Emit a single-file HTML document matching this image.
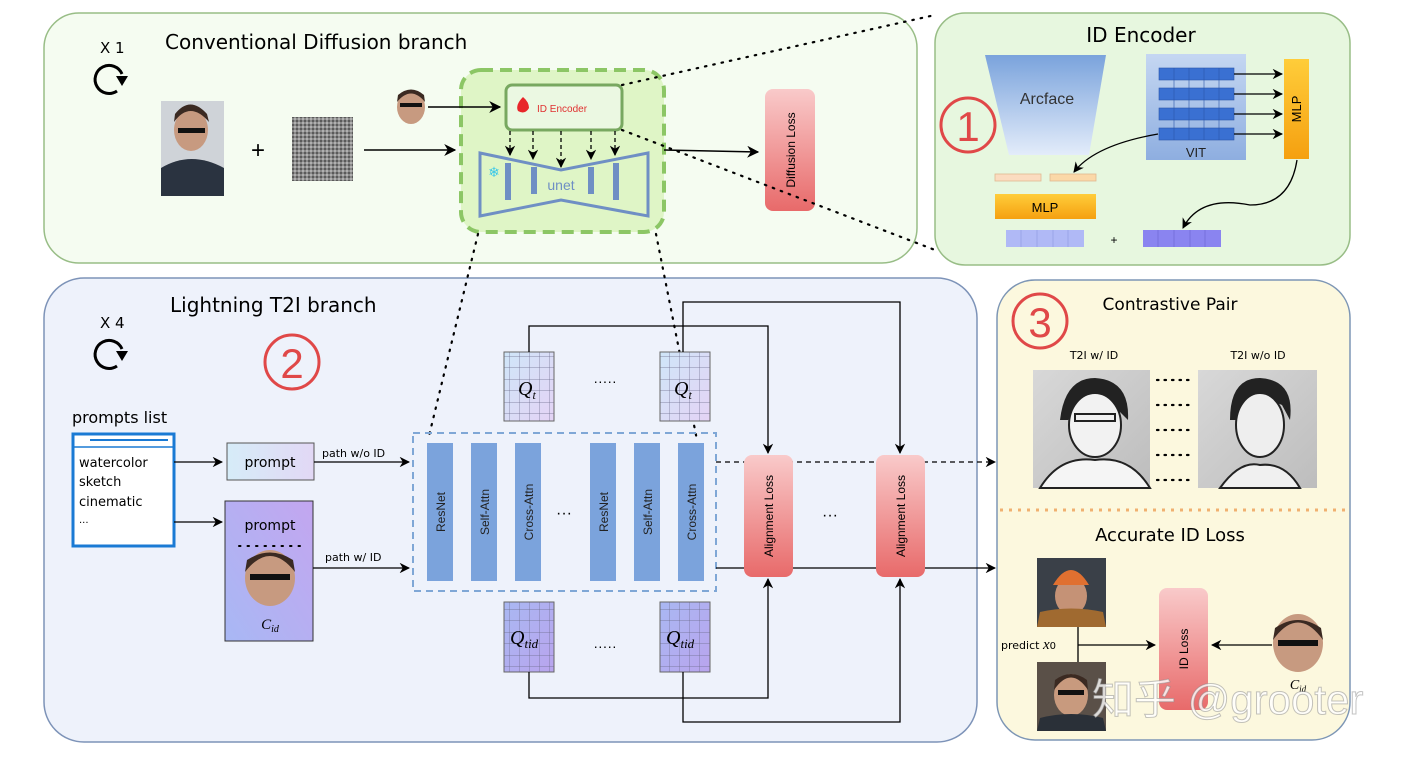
<!DOCTYPE html>
<html><head><meta charset="utf-8"><style>
html,body{margin:0;padding:0;background:#fff;}
svg{display:block;font-family:"Liberation Sans",sans-serif;}
.t{font-family:"DejaVu Sans","Liberation Sans",sans-serif;}
</style></head><body>
<svg width="1414" height="761" viewBox="0 0 1414 761" xmlns="http://www.w3.org/2000/svg">
<defs>
<marker id="ar" viewBox="0 0 10 10" refX="9" refY="5" markerWidth="8" markerHeight="8" orient="auto-start-reverse"><path d="M0,0 L10,5 L0,10 L3,5 z" fill="#000"/></marker>
<linearGradient id="red" x1="0" y1="0" x2="0" y2="1"><stop offset="0" stop-color="#f9caca"/><stop offset="1" stop-color="#e86a6a"/></linearGradient>
<linearGradient id="org" x1="0" y1="0" x2="0" y2="1"><stop offset="0" stop-color="#ffcd3a"/><stop offset="1" stop-color="#f5a010"/></linearGradient>
<linearGradient id="arc" x1="0" y1="0" x2="0" y2="1"><stop offset="0" stop-color="#7aa3dc"/><stop offset="1" stop-color="#e3ecfa"/></linearGradient>
<linearGradient id="vit" x1="0" y1="0" x2="0" y2="1"><stop offset="0" stop-color="#c5d7f2"/><stop offset="1" stop-color="#8eaee0"/></linearGradient>
<linearGradient id="qt" x1="0" y1="0" x2="1" y2="1"><stop offset="0" stop-color="#cfe6f8"/><stop offset="1" stop-color="#e4d3f5"/></linearGradient>
<linearGradient id="qtid" x1="0" y1="0" x2="1" y2="1"><stop offset="0" stop-color="#a9b8f2"/><stop offset="1" stop-color="#b9a4ee"/></linearGradient>
<linearGradient id="pr1" x1="0" y1="0" x2="1" y2="0"><stop offset="0" stop-color="#d6ecf8"/><stop offset="1" stop-color="#e2d8f5"/></linearGradient>
<linearGradient id="pr2" x1="0" y1="1" x2="1" y2="0"><stop offset="0" stop-color="#a8b8f4"/><stop offset="1" stop-color="#c3a6f0"/></linearGradient>
<linearGradient id="gray" x1="0" y1="0" x2="1" y2="1"><stop offset="0" stop-color="#d8d8d8"/><stop offset="1" stop-color="#bdbdbd"/></linearGradient>
<pattern id="noise" width="4" height="4" patternUnits="userSpaceOnUse"><rect width="4" height="4" fill="#8a8a8a"/><rect width="2" height="2" fill="#5a5a5a"/><rect x="2" y="2" width="2" height="2" fill="#b0b0b0"/></pattern>
<pattern id="grid" width="10" height="11.5" patternUnits="userSpaceOnUse"><path d="M10,0 V11.5 M0,11.5 H10" stroke="#6a6a8a" stroke-width="0.7" fill="none"/></pattern>
</defs>

<rect x="44" y="13" width="873" height="250" rx="35" fill="#f5fcf1" stroke="#98bd86" stroke-width="1.5"/>
<rect x="935" y="13" width="415" height="252" rx="30" fill="#e7f7df" stroke="#98bd86" stroke-width="1.5"/>
<rect x="44" y="278" width="933" height="464" rx="40" fill="#eef2fb" stroke="#7d93b8" stroke-width="1.5"/>
<rect x="997" y="280" width="353" height="460" rx="38" fill="#fcf8de" stroke="#7d96b5" stroke-width="1.5"/>

<text x="100" y="53" font-size="15" class="t">X 1</text>
<path d="M117,91 A14,14 0 1 1 122,74" fill="none" stroke="#000" stroke-width="3"/>
<path d="M116,76 L128,76 L122,86 z" fill="#000"/>
<text x="165" y="49" font-size="20" class="t">Conventional Diffusion branch</text>
<rect x="161" y="101" width="63" height="95" fill="#cfd3d8"/>
<ellipse cx="191" cy="130" rx="17" ry="21" fill="#c79a80"/>
<path d="M174,122 Q190,100 209,122 L207,114 Q190,95 175,114 z" fill="#3b2a22"/>
<rect x="178" y="128" width="27" height="5" fill="#111"/>
<path d="M161,196 L161,168 Q191,150 224,168 L224,196 z" fill="#2a3340"/>
<text x="258" y="158" font-size="24" text-anchor="middle">+</text>
<rect x="292" y="117" width="61" height="64" fill="url(#noise)"/>
<line x1="364" y1="150" x2="455" y2="150" stroke="#000" stroke-width="1.5" marker-end="url(#ar)"/>
<ellipse cx="411" cy="107" rx="14" ry="17" fill="#c79a80"/>
<path d="M397,102 Q411,85 425,102 L424,95 Q411,84 398,95 z" fill="#3b2a22"/>
<rect x="400" y="103" width="22" height="4" fill="#111"/>
<rect x="461" y="70" width="203" height="162" rx="20" fill="#dff5c6" stroke="#8cc665" stroke-width="4" stroke-dasharray="12,7"/>
<line x1="428" y1="107" x2="500" y2="107" stroke="#000" stroke-width="1.5" marker-end="url(#ar)"/>
<rect x="506" y="85" width="116" height="45" rx="6" fill="#ebf8e2" stroke="#78a860" stroke-width="3"/>
<path d="M523,97 Q515,105 518,111 Q525,115 529,108 Q529,102 523,97 z" fill="#e8262a"/>
<text x="537" y="112" font-size="10" fill="#e03030">ID Encoder</text>
<g stroke="#000" stroke-width="1.3" stroke-dasharray="4,3">
<line x1="510" y1="131" x2="510" y2="155" marker-end="url(#ar)"/>
<line x1="533" y1="131" x2="533" y2="159" marker-end="url(#ar)"/>
<line x1="561" y1="131" x2="561" y2="167" marker-end="url(#ar)"/>
<line x1="591" y1="131" x2="591" y2="159" marker-end="url(#ar)"/>
<line x1="615" y1="131" x2="615" y2="155" marker-end="url(#ar)"/>
</g>
<polygon points="480,153 561,170 648,153 648,216 561,200 480,216" fill="none" stroke="#6f8fc4" stroke-width="3"/>
<rect x="505" y="163" width="6" height="37" fill="#6f8fc4"/>
<rect x="531" y="167" width="6" height="27" fill="#6f8fc4"/>
<rect x="588" y="167" width="6" height="27" fill="#6f8fc4"/>
<rect x="613" y="163" width="6" height="37" fill="#6f8fc4"/>
<text x="561" y="190" font-size="14" fill="#6f8fc4" text-anchor="middle">unet</text>
<text x="494" y="177" font-size="14" fill="#3ec8e8" text-anchor="middle">❄</text>
<line x1="664" y1="150" x2="758" y2="152" stroke="#000" stroke-width="1.5" marker-end="url(#ar)"/>
<rect x="765" y="89" width="50" height="122" rx="8" fill="url(#red)"/>
<text transform="translate(795,150) rotate(-90)" font-size="12" text-anchor="middle">Diffusion Loss</text>
<g stroke="#000" stroke-width="2.2" stroke-dasharray="1.5,7" stroke-linecap="round" fill="none">
<line x1="622" y1="85" x2="935" y2="15"/>
<line x1="622" y1="130" x2="935" y2="250"/>
<line x1="478" y1="234" x2="428" y2="440"/>
<line x1="656" y1="234" x2="697" y2="440"/>
</g>

<text x="1141" y="42" font-size="20" text-anchor="middle" class="t">ID Encoder</text>
<polygon points="985,55 1106,55 1089,155 1009,155" fill="url(#arc)"/>
<text x="1047" y="104" font-size="16" fill="#333" text-anchor="middle">Arcface</text>
<rect x="1146" y="54" width="100" height="106" fill="url(#vit)"/>
<g fill="#3a70d2" stroke="#2a55a8" stroke-width="0.6">
<rect x="1159" y="68" width="75" height="12"/><rect x="1159" y="88" width="75" height="12"/>
<rect x="1159" y="108" width="75" height="12"/><rect x="1159" y="128" width="75" height="12"/>
</g>
<g stroke="#2a55a8" stroke-width="0.6"><line x1="1174" y1="68" x2="1174" y2="140"/><line x1="1189" y1="68" x2="1189" y2="140"/><line x1="1204" y1="68" x2="1204" y2="140"/><line x1="1219" y1="68" x2="1219" y2="140"/></g>
<text x="1196" y="157" font-size="13" fill="#222" text-anchor="middle">VIT</text>
<g stroke="#000" stroke-width="1.3">
<line x1="1234" y1="74" x2="1282" y2="74" marker-end="url(#ar)"/>
<line x1="1234" y1="94" x2="1282" y2="94" marker-end="url(#ar)"/>
<line x1="1234" y1="114" x2="1282" y2="114" marker-end="url(#ar)"/>
<line x1="1234" y1="134" x2="1282" y2="134" marker-end="url(#ar)"/>
</g>
<rect x="1284" y="59" width="25" height="100" fill="url(#org)"/>
<text transform="translate(1301,109) rotate(-90)" font-size="13" text-anchor="middle">MLP</text>
<circle cx="968" cy="125" r="27" fill="none" stroke="#e04848" stroke-width="3"/>
<text x="968" y="141" font-size="42" fill="#e04848" text-anchor="middle">1</text>
<rect x="995" y="174" width="46" height="7" fill="#fbdcc0" stroke="#e0b890" stroke-width="0.8"/>
<rect x="1050" y="174" width="46" height="7" fill="#fbd8a8" stroke="#e0b890" stroke-width="0.8"/>
<path d="M1158,134 Q1095,145 1074,172" fill="none" stroke="#000" stroke-width="1.3" marker-end="url(#ar)"/>
<rect x="995" y="194" width="101" height="25" fill="url(#org)"/>
<text x="1045" y="212" font-size="13" text-anchor="middle">MLP</text>
<rect x="1006" y="230" width="78" height="17" fill="#b0b9f6"/>
<g stroke="#8c98e0" stroke-width="0.6"><line x1="1021" y1="230" x2="1021" y2="247"/><line x1="1037" y1="230" x2="1037" y2="247"/><line x1="1053" y1="230" x2="1053" y2="247"/><line x1="1068" y1="230" x2="1068" y2="247"/></g>
<text x="1114" y="244" font-size="12" text-anchor="middle">+</text>
<rect x="1143" y="230" width="78" height="17" fill="#8a84f0"/>
<g stroke="#6a64d0" stroke-width="0.6"><line x1="1158" y1="230" x2="1158" y2="247"/><line x1="1174" y1="230" x2="1174" y2="247"/><line x1="1190" y1="230" x2="1190" y2="247"/><line x1="1205" y1="230" x2="1205" y2="247"/></g>
<path d="M1297,160 Q1290,205 1250,205 Q1200,195 1183,228" fill="none" stroke="#000" stroke-width="1.3" marker-end="url(#ar)"/>

<text x="100" y="328" font-size="15" class="t">X 4</text>
<path d="M117,366 A14,14 0 1 1 122,349" fill="none" stroke="#000" stroke-width="3"/>
<path d="M116,351 L128,351 L122,361 z" fill="#000"/>
<text x="170" y="312" font-size="20" class="t">Lightning T2I branch</text>
<circle cx="292" cy="362" r="27" fill="none" stroke="#e04848" stroke-width="3"/>
<text x="292" y="378" font-size="42" fill="#e04848" text-anchor="middle">2</text>
<text x="72" y="423" font-size="16" class="t">prompts list</text>
<rect x="73" y="434" width="101" height="112" fill="#fff" stroke="#1a7ad4" stroke-width="3"/>
<line x1="73" y1="447" x2="174" y2="447" stroke="#1a7ad4" stroke-width="1.5"/>
<line x1="90" y1="440" x2="168" y2="440" stroke="#1a7ad4" stroke-width="2"/>
<g font-size="13" class="t"><text x="79" y="467">watercolor</text><text x="79" y="486">sketch</text><text x="79" y="506">cinematic</text><text x="79" y="523" font-size="10">...</text></g>
<line x1="174" y1="462" x2="222" y2="462" stroke="#000" stroke-width="1.3" marker-end="url(#ar)"/>
<line x1="174" y1="522" x2="222" y2="522" stroke="#000" stroke-width="1.3" marker-end="url(#ar)"/>
<rect x="227" y="443" width="87" height="37" fill="url(#pr1)" stroke="#555"/>
<text x="270" y="467" font-size="14" text-anchor="middle" class="t">prompt</text>
<rect x="225" y="501" width="88" height="140" fill="url(#pr2)" stroke="#333"/>
<text x="270" y="530" font-size="14" text-anchor="middle" class="t">prompt</text>
<line x1="239" y1="546" x2="302" y2="546" stroke="#000" stroke-width="2" stroke-dasharray="1.5,7" stroke-linecap="round"/>
<ellipse cx="270" cy="578" rx="25" ry="28" fill="#c79a80"/>
<path d="M245,572 Q270,540 295,572 L293,560 Q270,545 247,560 z" fill="#3b2a22"/>
<rect x="250" y="574" width="40" height="6" fill="#111"/>
<text x="270" y="629" font-size="15" font-style="italic" text-anchor="middle" font-family="Liberation Serif">C<tspan font-size="10" dy="3">id</tspan></text>
<line x1="314" y1="462" x2="409" y2="462" stroke="#000" stroke-width="1.3" marker-end="url(#ar)"/>
<text x="322" y="457" font-size="11" class="t">path w/o ID</text>
<line x1="313" y1="568" x2="409" y2="568" stroke="#000" stroke-width="1.3" marker-end="url(#ar)"/>
<text x="325" y="561" font-size="11" class="t">path w/ ID</text>
<rect x="413" y="433" width="303" height="158" fill="none" stroke="#7fa7d6" stroke-width="2" stroke-dasharray="7,5"/>
<g fill="#7ba3dc">
<rect x="427" y="443" width="26" height="138"/><rect x="471" y="443" width="26" height="138"/><rect x="515" y="443" width="26" height="138"/>
<rect x="590" y="443" width="26" height="138"/><rect x="634" y="443" width="26" height="138"/><rect x="678" y="443" width="26" height="138"/>
</g>
<g font-size="12" fill="#222">
<text transform="translate(445,512) rotate(-90)" text-anchor="middle">ResNet</text>
<text transform="translate(489,512) rotate(-90)" text-anchor="middle">Self-Attn</text>
<text transform="translate(533,512) rotate(-90)" text-anchor="middle">Cross-Attn</text>
<text transform="translate(608,512) rotate(-90)" text-anchor="middle">ResNet</text>
<text transform="translate(652,512) rotate(-90)" text-anchor="middle">Self-Attn</text>
<text transform="translate(696,512) rotate(-90)" text-anchor="middle">Cross-Attn</text>
</g>
<text x="564" y="518" font-size="16" text-anchor="middle">···</text>
<rect x="504" y="352" width="50" height="69" fill="url(#qt)"/><rect x="504" y="352" width="50" height="69" fill="url(#grid)" stroke="#666"/>
<rect x="660" y="352" width="50" height="69" fill="url(#qt)"/><rect x="660" y="352" width="50" height="69" fill="url(#grid)" stroke="#666"/>
<rect x="504" y="602" width="50" height="70" fill="url(#qtid)"/><rect x="504" y="602" width="50" height="70" fill="url(#grid)" stroke="#666"/>
<rect x="660" y="602" width="50" height="70" fill="url(#qtid)"/><rect x="660" y="602" width="50" height="70" fill="url(#grid)" stroke="#666"/>
<g font-family="Liberation Serif" font-style="italic" font-size="20">
<text x="518" y="395">Q<tspan font-size="12" dy="4">t</tspan></text>
<text x="674" y="395">Q<tspan font-size="12" dy="4">t</tspan></text>
<text x="510" y="644">Q<tspan font-size="13" dy="4">tid</tspan></text>
<text x="666" y="644">Q<tspan font-size="13" dy="4">tid</tspan></text>
</g>
<text x="605" y="386" font-size="14" text-anchor="middle">·····</text>
<text x="605" y="651" font-size="14" text-anchor="middle">·····</text>
<g fill="none" stroke="#000" stroke-width="1.3">
<polyline points="529,352 529,326 768,326 768,453" marker-end="url(#ar)"/>
<polyline points="683,352 683,302 900,302 900,453" marker-end="url(#ar)"/>
<polyline points="529,672 529,698 768,698 768,579" marker-end="url(#ar)"/>
<polyline points="683,672 683,722 900,722 900,579" marker-end="url(#ar)"/>
<line x1="716" y1="462" x2="995" y2="462" stroke-dasharray="5,4" marker-end="url(#ar)"/>
<line x1="716" y1="568" x2="995" y2="568" marker-end="url(#ar)"/>
</g>
<rect x="744" y="455" width="49" height="122" rx="8" fill="url(#red)"/>
<rect x="876" y="455" width="49" height="122" rx="8" fill="url(#red)"/>
<text transform="translate(773,516) rotate(-90)" font-size="12" text-anchor="middle">Alignment Loss</text>
<text transform="translate(905,516) rotate(-90)" font-size="12" text-anchor="middle">Alignment Loss</text>
<text x="830" y="520" font-size="16" text-anchor="middle">···</text>

<circle cx="1040" cy="321" r="27" fill="none" stroke="#e04848" stroke-width="3"/>
<text x="1040" y="337" font-size="42" fill="#e04848" text-anchor="middle">3</text>
<text x="1170" y="310" font-size="17" text-anchor="middle" class="t">Contrastive Pair</text>
<text x="1094" y="359" font-size="11" text-anchor="middle" class="t">T2I w/ ID</text>
<text x="1258" y="359" font-size="11" text-anchor="middle" class="t">T2I w/o ID</text>
<rect x="1033" y="370" width="117" height="118" fill="url(#gray)"/>
<rect x="1198" y="370" width="119" height="118" fill="url(#gray)"/>
<path d="M1060,420 Q1065,378 1095,378 Q1130,380 1128,420 L1120,412 Q1095,395 1068,420 z" fill="#222"/>
<ellipse cx="1095" cy="425" rx="26" ry="32" fill="#f2f2f2" stroke="#222" stroke-width="2"/>
<rect x="1075" y="414" width="40" height="7" fill="none" stroke="#222" stroke-width="2"/>
<path d="M1040,488 Q1060,455 1095,460 Q1130,455 1150,488 z" fill="#f5f5f5" stroke="#222" stroke-width="2"/>
<path d="M1230,420 Q1230,378 1260,378 Q1295,380 1290,420 L1282,405 Q1260,395 1238,420 z" fill="#222"/>
<ellipse cx="1260" cy="425" rx="24" ry="32" fill="#eee" stroke="#222" stroke-width="2"/>
<path d="M1220,488 Q1240,460 1260,465 Q1285,462 1300,488 z" fill="#f0f0f0" stroke="#222" stroke-width="2"/>
<g stroke="#000" stroke-width="2.2" stroke-dasharray="1.5,6" stroke-linecap="round">
<line x1="1157" y1="380" x2="1192" y2="380"/><line x1="1157" y1="405" x2="1192" y2="405"/><line x1="1157" y1="430" x2="1192" y2="430"/><line x1="1157" y1="455" x2="1192" y2="455"/><line x1="1157" y1="480" x2="1192" y2="480"/>
</g>
<line x1="1000" y1="510" x2="1348" y2="510" stroke="#f0b070" stroke-width="3" stroke-dasharray="3,6"/>
<text x="1170" y="541" font-size="18" text-anchor="middle" class="t">Accurate ID Loss</text>
<rect x="1037" y="558" width="69" height="69" fill="#3a4048"/>
<ellipse cx="1071" cy="596" rx="16" ry="19" fill="#c59276"/>
<path d="M1053,585 Q1071,555 1089,585 z" fill="#e07030"/>
<path d="M1037,627 L1040,612 Q1071,605 1103,612 L1106,627 z" fill="#a06a30"/>
<rect x="1037" y="662" width="69" height="69" fill="#5a5048"/>
<ellipse cx="1071" cy="695" rx="17" ry="21" fill="#c89a7e"/>
<path d="M1054,690 Q1071,665 1088,690 L1087,680 Q1071,668 1055,680 z" fill="#3b2a22"/>
<rect x="1058" y="690" width="26" height="5" fill="#111"/>
<path d="M1037,731 L1040,718 Q1071,710 1103,718 L1106,731 z" fill="#2a3038"/>
<g stroke="#000" stroke-width="1.3" fill="none">
<line x1="1078" y1="627" x2="1078" y2="662"/>
<line x1="1078" y1="645" x2="1155" y2="645" marker-end="url(#ar)"/>
<line x1="1272" y1="645" x2="1212" y2="645" marker-end="url(#ar)"/>
</g>
<text x="1001" y="649" font-size="11" class="t">predict <tspan font-family="Liberation Serif" font-style="italic" font-size="15">x</tspan><tspan font-size="10">0</tspan></text>
<rect x="1159" y="588" width="49" height="122" rx="8" fill="url(#red)"/>
<text transform="translate(1188,649) rotate(-90)" font-size="12" text-anchor="middle">ID Loss</text>
<ellipse cx="1298" cy="643" rx="25" ry="29" fill="#c79a80"/>
<path d="M1273,640 Q1298,605 1323,640 L1321,628 Q1298,612 1275,628 z" fill="#3b2a22"/>
<rect x="1278" y="640" width="40" height="6" fill="#111"/>
<text x="1298" y="689" font-size="14" font-style="italic" text-anchor="middle" font-family="Liberation Serif">C<tspan font-size="9" dy="3">id</tspan></text>
<text x="1092" y="714" font-size="42" fill="#ffffff" fill-opacity="0.8" stroke="#888" stroke-opacity="0.5" stroke-width="1" font-family="Liberation Sans, Noto Sans CJK SC, sans-serif">知乎 @grooter</text>
</svg>
</body></html>
